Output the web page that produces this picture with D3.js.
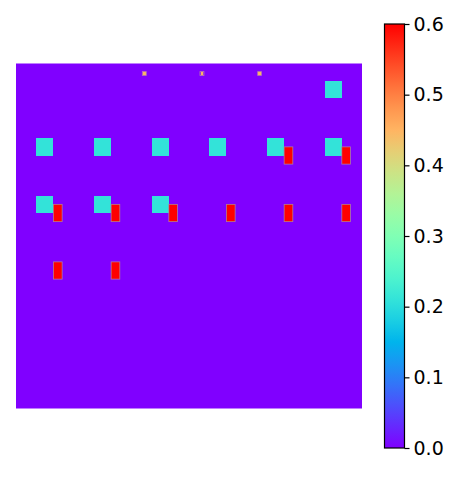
<!DOCTYPE html>
<html><head><meta charset="utf-8">
<script src="https://cdn.jsdelivr.net/npm/d3@7"></script>
<style>body{margin:0;background:#fff}</style></head>
<body><svg id="c" width="474" height="479"></svg>
<script>
const gridSize = 120;
// blocks: [blockRow, blockCol]
const cyanBlocks = [[0,5],[1,0],[1,1],[1,2],[1,3],[1,4],[1,5],[2,0],[2,1],[2,2]];
const redBlocks = [[1,4],[1,5],[2,0],[2,1],[2,2],[2,3],[2,4],[2,5],[3,0],[3,1]];
const dotCells = [[3,44],[3,64],[3,84]];
const cyanValue = 0.21, redValue = 0.6, dotValue = 0.45;
const cbTicks = [0,0.1,0.2,0.3,0.4,0.5,0.6];

function rainbow(t){
  t=Math.max(0,Math.min(1,t));
  const r=Math.min(1,Math.abs(2*t-0.5)), g=Math.sin(Math.PI*t), b=Math.cos(Math.PI*t/2);
  return d3.rgb(r*255,g*255,b*255).toString();
}
const color = v => rainbow(v/0.6);

const cells=[];
cyanBlocks.forEach(([br,bc])=>{for(let r=0;r<6;r++)for(let c=0;c<6;c++)cells.push({r:br*20+6+r,c:bc*20+7+c,v:cyanValue});});
redBlocks.forEach(([br,bc])=>{for(let r=0;r<6;r++)for(let c=0;c<3;c++)cells.push({r:br*20+9+r,c:bc*20+13+c,v:redValue});});
dotCells.forEach(([r,c])=>cells.push({r,c,v:dotValue}));

const svg=d3.select("#c");
const x=d3.scaleLinear().domain([0,gridSize]).range([16,362]);
const y=d3.scaleLinear().domain([0,gridSize]).range([63.5,408.5]);
svg.append("rect").attr("x",x(0)).attr("y",y(0)).attr("width",x(gridSize)-x(0)).attr("height",y(gridSize)-y(0)).attr("fill",color(0));
svg.selectAll("rect.cell").data(cells).join("rect").attr("class","cell")
  .attr("x",d=>x(d.c)).attr("y",d=>y(d.r)).attr("width",x(1)-x(0)).attr("height",y(1)-y(0))
  .attr("fill",d=>color(d.v)).attr("shape-rendering","crispEdges");
redBlocks.forEach(([br,bc])=>svg.append("rect").attr("x",x(bc*20+13)).attr("y",y(br*20+9)).attr("width",x(3)-x(0)).attr("height",y(6)-y(0)).attr("fill","none").attr("stroke","#b07a9a").attr("stroke-width",0.8));
dotCells.forEach(([r,c])=>svg.append("rect").attr("x",x(c)-0.5).attr("y",y(r)-0.5).attr("width",x(1)-x(0)+1).attr("height",y(1)-y(0)+1).attr("fill","none").attr("stroke","#c08aa0").attr("stroke-width",0.8));

const cbX=384.5, cbW=20, cy=d3.scaleLinear().domain([0,0.6]).range([448,24]);
const grad=svg.append("defs").append("linearGradient").attr("id","g").attr("x1",0).attr("y1",1).attr("x2",0).attr("y2",0);
d3.range(0,1.0001,0.05).forEach(t=>grad.append("stop").attr("offset",t).attr("stop-color",rainbow(t)));
svg.append("rect").attr("x",cbX).attr("y",cy(0.6)).attr("width",cbW).attr("height",cy(0)-cy(0.6)).attr("fill","url(#g)").attr("stroke","#000").attr("stroke-width",1.2);
const ax=svg.append("g").attr("transform",`translate(${cbX+cbW},0)`).call(d3.axisRight(cy).tickValues(cbTicks).tickFormat(d3.format(".1f")).tickSize(5).tickPadding(4));
ax.select(".domain").remove();
ax.selectAll("line").attr("stroke-width",1.2);
ax.selectAll("text").attr("font-family","DejaVu Sans").attr("font-size",19).attr("fill","#000");
</script></body></html>
